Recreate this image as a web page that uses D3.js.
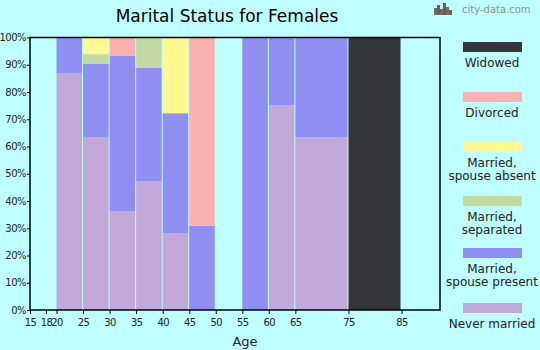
<!DOCTYPE html>
<html><head><meta charset="utf-8">
<script src="https://cdn.jsdelivr.net/npm/d3@7"></script>
<style>
html,body{margin:0;padding:0;background:#c0ffff;}
svg{display:block;}
text{font-family:"DejaVu Sans",Verdana,sans-serif;}
</style></head>
<body>
<svg id="chart" width="540" height="350"></svg>
<script>
// ---- data ----
const ageGroups = ["15-17","18-19","20-24","25-29","30-34","35-39","40-44","45-49","50-54","55-59","60-64","65-74","75-84","85+"];
const groupStart = [15,18,20,25,30,35,40,45,50,55,60,65,75,85];
const groupEnd   = [18,20,25,30,35,40,45,50,55,60,65,75,85,92.25];
const neverMarried  = [0,0,87,63.5,36.3,47.3,28.2,0,0,0,75.2,63.4,0,0];
const spousePresent = [0,0,13,26.8,57,41.6,44,30.9,0,100,24.8,36.6,0,0];
const separated     = [0,0,0,3.6,0,11.1,0,0,0,0,0,0,0,0];
const spouseAbsent  = [0,0,0,6.1,0,0,27.8,0,0,0,0,0,0,0];
const divorced      = [0,0,0,0,6.7,0,0,69.1,0,0,0,0,0,0];
const widowed       = [0,0,0,0,0,0,0,0,0,0,0,0,100,0];
const seriesKeys   = ["Never married","Married, spouse present","Married, separated","Married, spouse absent","Divorced","Widowed"];
const seriesValues = [neverMarried,spousePresent,separated,spouseAbsent,divorced,widowed];
const seriesColors = ["#c0a8d8","#8f8ff2","#c2d9a4","#fff994","#f8b0b0","#35363b"];
const xTicks = [15,18,20,25,30,35,40,45,50,55,60,65,75,85];
const yTicks = [0,10,20,30,40,50,60,70,80,90,100];

// ---- layout ----
const svg = d3.select("#chart");
const L = 30, R = 440, T = 37.5, B = 310;
const x = d3.scaleLinear().domain([15, 92.25]).range([L, R]);
const y = d3.scaleLinear().domain([0, 100]).range([B, T]);

const rows = ageGroups.map((g,i)=>{
  const o = {group:g, start:groupStart[i], end:groupEnd[i]};
  seriesKeys.forEach((k,j)=>o[k]=seriesValues[j][i]);
  return o;
});
const stacked = d3.stack().keys(seriesKeys)(rows);

// title
svg.append("text").attr("x",227).attr("y",22).attr("text-anchor","middle")
  .attr("font-size",17).attr("fill","#000").text("Marital Status for Females");

// watermark
const wm = svg.append("g").attr("transform","translate(434,3)");
[[0,5,3,7],[3,2,3,10],[6,6,3,6],[9,0,3,12],[12,4,3,8],[15,7,3,5]].forEach(r=>
  wm.append("rect").attr("x",r[0]).attr("y",r[1]).attr("width",r[2]).attr("height",r[3])
    .attr("fill",r[0]%6===0?"#7a6a50":"#5a6070"));
wm.append("text").attr("x",28).attr("y",10).attr("font-size",10).attr("fill","#8a9090").text("city-data.com");

// bars
const gBars = svg.append("g");
stacked.forEach((s,j)=>{
  gBars.selectAll(null).data(s.filter(d=>d[1]-d[0]>0)).enter().append("rect")
    .attr("x",d=>x(d.data.start))
    .attr("width",d=>x(d.data.end)-x(d.data.start)-1)
    .attr("y",d=>y(d[1]))
    .attr("height",d=>y(d[0])-y(d[1]))
    .attr("fill",seriesColors[j]);
});

// frame
svg.append("rect").attr("x",L).attr("y",T).attr("width",R-L).attr("height",B-T)
  .attr("fill","none").attr("stroke","#000").attr("stroke-width",1.5);

// axes
const xAxis = d3.axisBottom(x).tickValues(xTicks).tickSize(4).tickFormat(d=>d);
const gx = svg.append("g").attr("transform",`translate(0,${B})`).call(xAxis);
gx.select(".domain").remove();
gx.selectAll("line").attr("stroke","#000");
gx.selectAll("text").attr("font-size",10).attr("fill","#222").attr("dy","0.9em")
  .style("letter-spacing","-0.6px")
  .attr("font-family","'Liberation Sans',Arial,sans-serif");

const yAxis = d3.axisLeft(y).tickValues(yTicks).tickSize(3).tickFormat(d=>d+"%");
const gy = svg.append("g").attr("transform",`translate(${L},0)`).call(yAxis);
gy.select(".domain").remove();
gy.selectAll("line").attr("stroke","#000");
gy.selectAll("text").attr("font-size",10).attr("fill","#222").attr("x",-4).style("letter-spacing","-0.5px")
  .attr("font-family","'Liberation Sans',Arial,sans-serif");

svg.append("text").attr("x",245).attr("y",346).attr("text-anchor","middle")
  .attr("font-size",13).attr("fill","#222").text("Age");

// legend (top to bottom: reverse order)
const legendItems = [
  {k:"Widowed", lines:["Widowed"], ry:42},
  {k:"Divorced", lines:["Divorced"], ry:92},
  {k:"Married, spouse absent", lines:["Married,","spouse absent"], ry:142},
  {k:"Married, separated", lines:["Married,","separated"], ry:196},
  {k:"Married, spouse present", lines:["Married,","spouse present"], ry:248},
  {k:"Never married", lines:["Never married"], ry:303}
];
const lg = svg.append("g");
legendItems.forEach(it=>{
  const ci = seriesKeys.indexOf(it.k);
  lg.append("rect").attr("x",463).attr("y",it.ry).attr("width",59).attr("height",10)
    .attr("fill",seriesColors[ci]);
  it.lines.forEach((ln,i)=>{
    lg.append("text").attr("x",492).attr("y",it.ry+25+i*13).attr("text-anchor","middle")
      .attr("font-size",12).attr("fill","#222").text(ln);
  });
});
</script>
</body></html>
